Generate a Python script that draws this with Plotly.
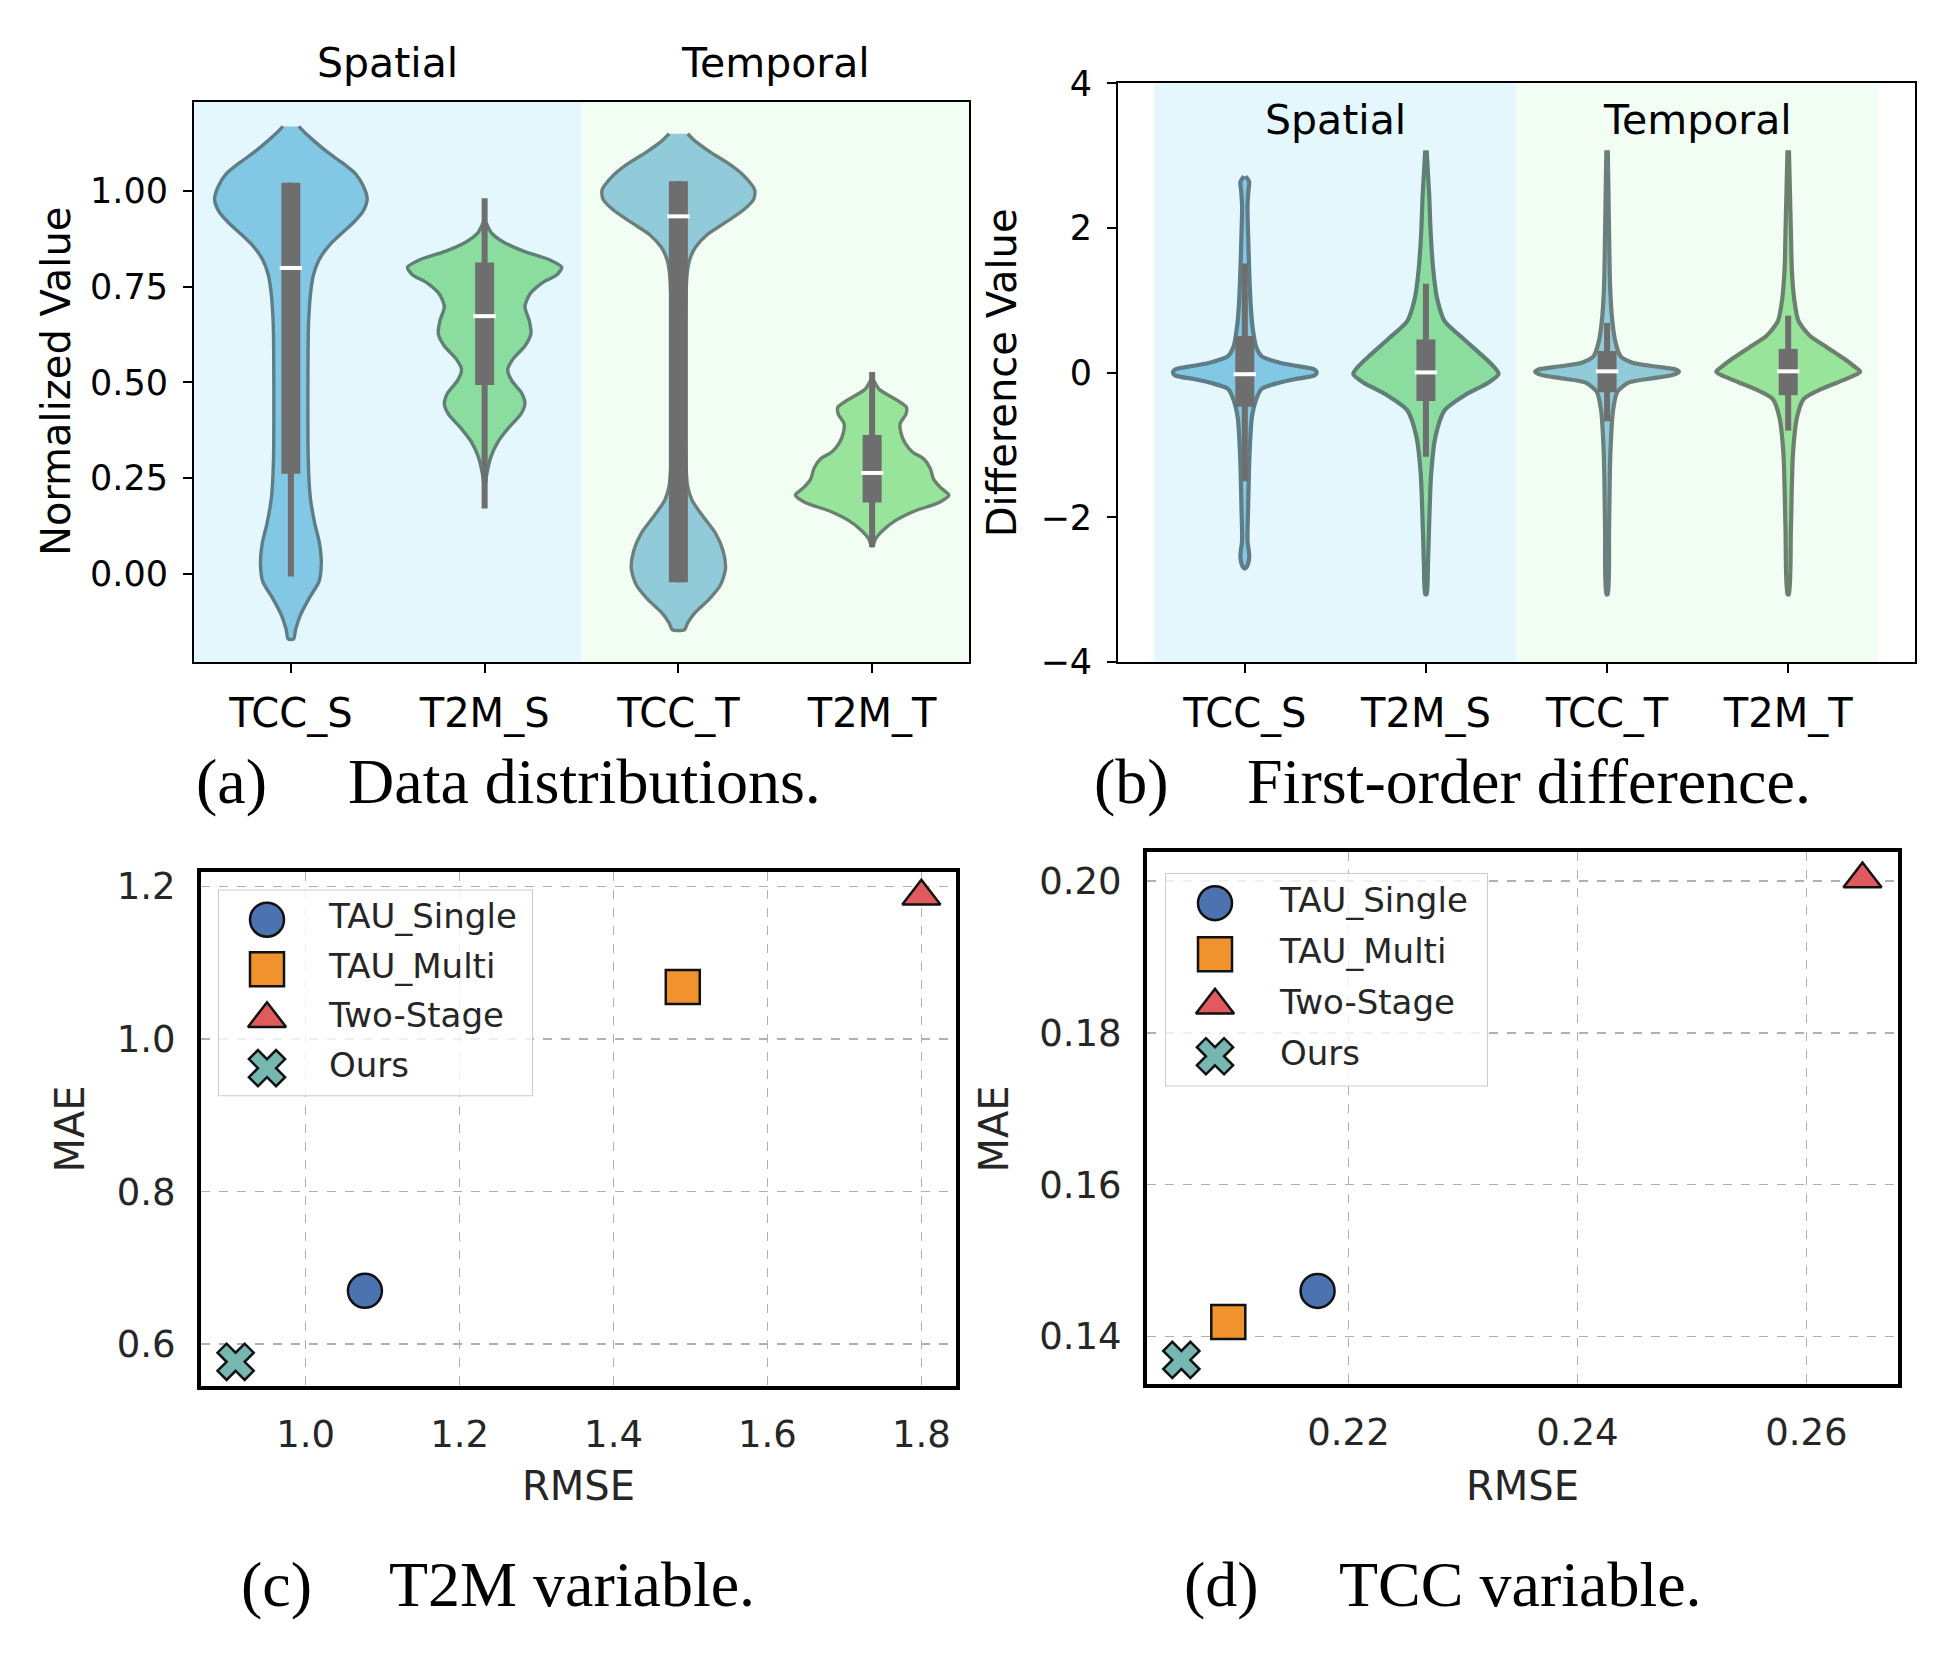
import plotly.graph_objects as go

W, H = 1952, 1656

# ---------------- data ----------------
categories = ["TCC_S", "T2M_S", "TCC_T", "T2M_T"]
groups = ["Spatial", "Temporal"]

# (a) violin outlines: value, half-width (category units)
a_tcc_s_val = [1.169, 1.153, 1.130, 1.101, 1.073, 1.045, 1.012, 0.979, 0.947, 0.918, 0.890, 0.857, 0.820,
               0.782, 0.735, 0.651, 0.482, 0.294, 0.200, 0.134, 0.078, 0.026, -0.021, -0.063, -0.110, -0.147, -0.171]
a_tcc_s_hw = [0.041, 0.071, 0.122, 0.191, 0.268, 0.334, 0.375, 0.394, 0.372, 0.323, 0.263, 0.196, 0.145,
              0.117, 0.102, 0.091, 0.088, 0.090, 0.100, 0.122, 0.148, 0.157, 0.145, 0.096, 0.048, 0.024, 0.014]
a_t2m_s_val = [0.918, 0.890, 0.867, 0.843, 0.820, 0.801, 0.782, 0.759, 0.731, 0.698, 0.660, 0.627, 0.595,
               0.562, 0.533, 0.505, 0.472, 0.444, 0.416, 0.383, 0.346, 0.303, 0.257, 0.233]
a_t2m_s_hw = [0.007, 0.036, 0.096, 0.200, 0.337, 0.398, 0.375, 0.294, 0.234, 0.208, 0.231, 0.239, 0.208,
              0.148, 0.119, 0.139, 0.191, 0.208, 0.186, 0.127, 0.071, 0.031, 0.010, 0.003]
a_tcc_t_val = [1.150, 1.130, 1.102, 1.069, 1.036, 1.003, 0.979, 0.951, 0.918, 0.886, 0.853, 0.820, 0.782,
               0.670, 0.482, 0.294, 0.228, 0.191, 0.153, 0.106, 0.059, 0.012, -0.030, -0.068, -0.101, -0.129, -0.147]
a_tcc_t_hw = [0.048, 0.088, 0.165, 0.268, 0.346, 0.394, 0.389, 0.337, 0.243, 0.148, 0.088, 0.058, 0.045,
              0.036, 0.034, 0.038, 0.048, 0.071, 0.122, 0.191, 0.231, 0.243, 0.217, 0.157, 0.088, 0.048, 0.031]
a_t2m_t_val = [0.510, 0.482, 0.454, 0.435, 0.416, 0.393, 0.369, 0.341, 0.318, 0.299, 0.275, 0.247, 0.224,
               0.205, 0.186, 0.163, 0.139, 0.116, 0.092, 0.073]
a_t2m_t_hw = [0.003, 0.036, 0.126, 0.177, 0.174, 0.145, 0.148, 0.170, 0.208, 0.268, 0.300, 0.317, 0.355,
              0.396, 0.346, 0.217, 0.122, 0.062, 0.019, 0.003]
a_q1 = [0.261, 0.493, -0.023, 0.186]
a_q3 = [1.022, 0.813, 1.026, 0.362]
a_median = [0.799, 0.673, 0.934, 0.263]
a_whisker_low = [-0.008, 0.170, -0.023, 0.069]
a_whisker_high = [1.022, 0.981, 1.026, 0.527]

# (b) first-order difference violins
b_tcc_s_val = [2.716, 2.639, 2.511, 2.305, 1.946, 1.433, 0.919, 0.611, 0.355, 0.226, 0.139, 0.097, 0.046,
               0.005, -0.036, -0.087, -0.134, -0.221, -0.365, -0.622, -1.135, -1.905, -2.316, -2.521, -2.624, -2.701]
b_tcc_s_hw = [0.004, 0.024, 0.020, 0.015, 0.018, 0.024, 0.033, 0.044, 0.063, 0.094, 0.195, 0.280, 0.385,
              0.397, 0.385, 0.280, 0.195, 0.094, 0.063, 0.039, 0.026, 0.018, 0.015, 0.024, 0.020, 0.004]
b_t2m_s_val = [3.076, 2.459, 1.946, 1.433, 1.022, 0.714, 0.457, 0.251, 0.097, -0.016, -0.134, -0.313, -0.519,
               -0.878, -1.392, -2.162, -2.676, -3.061]
b_t2m_s_hw = [0.004, 0.018, 0.026, 0.040, 0.062, 0.103, 0.213, 0.305, 0.370, 0.401, 0.346, 0.213, 0.103,
              0.053, 0.029, 0.017, 0.011, 0.004]
b_tcc_t_val = [3.076, 1.946, 1.176, 0.714, 0.406, 0.226, 0.139, 0.087, 0.046, 0.015, -0.026, -0.077, -0.134,
               -0.262, -0.519, -1.135, -2.162, -3.061]
b_tcc_t_hw = [0.004, 0.011, 0.017, 0.029, 0.048, 0.075, 0.140, 0.268, 0.379, 0.397, 0.369, 0.250, 0.121,
              0.057, 0.033, 0.018, 0.011, 0.004]
b_t2m_t_val = [3.076, 1.946, 1.433, 1.022, 0.714, 0.508, 0.354, 0.200, 0.097, 0.015, -0.082, -0.211, -0.365,
               -0.622, -1.135, -2.162, -3.061]
b_t2m_t_hw = [0.004, 0.015, 0.020, 0.033, 0.057, 0.121, 0.213, 0.305, 0.360, 0.397, 0.324, 0.195, 0.085,
              0.048, 0.026, 0.015, 0.004]
b_q1 = [-0.47, -0.39, -0.27, -0.31]
b_q3 = [0.51, 0.46, 0.30, 0.33]
b_median = [-0.02, 0.005, 0.02, 0.02]
b_whisker_low = [-1.50, -1.16, -0.67, -0.80]
b_whisker_high = [1.51, 1.23, 0.69, 0.79]

# (c), (d) scatter
methods = ["TAU_Single", "TAU_Multi", "Two-Stage", "Ours"]
t2m_rmse = [1.077, 1.490, 1.800, 0.909]
t2m_mae = [0.670, 1.068, 1.187, 0.577]
tcc_rmse = [0.2173, 0.2095, 0.2649, 0.2054]
tcc_mae = [0.1460, 0.1419, 0.2003, 0.1369]

a_ticks = [0.0, 0.25, 0.5, 0.75, 1.0]
b_ticks = [-4, -2, 0, 2, 4]
c_xticks = [1.0, 1.2, 1.4, 1.6, 1.8]
c_yticks = [0.6, 0.8, 1.0, 1.2]
d_xticks = [0.22, 0.24, 0.26]
d_yticks = [0.14, 0.16, 0.18, 0.20]

# ---------------- styles ----------------
FONT = "DejaVu Sans"
SERIF = "Liberation Serif"
DARK = "#262626"
violin_fill = ["#82c7e3", "#8bdd9f", "#91cad9", "#98e49a"]
violin_edge = ["#5f7d87", "#5f7f77", "#6b807c", "#6b806e"]
BOX = "#6e6e6e"
bg_colors = ["#e4f7fd", "#f2fdf3"]
m_symbols = ["circle", "square", "triangle-up", "x"]
m_colors = ["#4c72b0", "#f0922d", "#e05a5e", "#76b7b2"]
m_sizes = [34, 34, 33, 32]


def hx(p):
    return p / W


def vy(p):
    return 1 - p / H


A_X, A_Y = (194, 969), (84, 658)
B_X, B_Y = (1118, 1915), (65, 658)
C_X, C_Y = (201, 956), (873, 1400)
D_X, D_Y = (1147, 1898), (853, 1398)
LEG_C = dict(x=(218, 533), y=(891, 1103), mx=49, tx=111, top=31, step=50.7)
LEG_D = dict(x=(1165, 1488), y=(874, 1093), mx=50, tx=115, top=31, step=52.3)

fig = go.Figure()


def add_violins(profiles, q1, q3, med, wlo, whi, xa, ya, edge_w):
    for i, (vals, hws) in enumerate(profiles):
        xs = [i + h for h in hws] + [i - h for h in reversed(hws)]
        ys = list(vals) + list(reversed(vals))
        fig.add_trace(go.Scatter(
            x=xs, y=ys, mode="lines", fill="toself", fillcolor=violin_fill[i],
            line=dict(color=violin_edge[i], width=edge_w, shape="spline", smoothing=0.7),
            xaxis=xa, yaxis=ya, hoverinfo="skip", showlegend=False))
    for i in range(len(categories)):
        fig.add_trace(go.Scatter(x=[i, i], y=[wlo[i], whi[i]], mode="lines",
                                 line=dict(color=BOX, width=6), xaxis=xa, yaxis=ya,
                                 hoverinfo="skip", showlegend=False))
        fig.add_trace(go.Scatter(x=[i, i], y=[q1[i], q3[i]], mode="lines",
                                 line=dict(color=BOX, width=19), xaxis=xa, yaxis=ya,
                                 hoverinfo="skip", showlegend=False))
        fig.add_trace(go.Scatter(x=[i], y=[med[i]], mode="markers",
                                 marker=dict(symbol="line-ew", size=16, color="white", opacity=1,
                                             line=dict(color="white", width=4)),
                                 xaxis=xa, yaxis=ya, hoverinfo="skip", showlegend=False))


add_violins([(a_tcc_s_val, a_tcc_s_hw), (a_t2m_s_val, a_t2m_s_hw),
             (a_tcc_t_val, a_tcc_t_hw), (a_t2m_t_val, a_t2m_t_hw)],
            a_q1, a_q3, a_median, a_whisker_low, a_whisker_high, "x", "y", 3.4)
add_violins([(b_tcc_s_val, b_tcc_s_hw), (b_t2m_s_val, b_t2m_s_hw),
             (b_tcc_t_val, b_tcc_t_hw), (b_t2m_t_val, b_t2m_t_hw)],
            b_q1, b_q3, b_median, b_whisker_low, b_whisker_high, "x2", "y2", 4.2)

for k, m in enumerate(methods):
    for (xs, ys, xa, ya) in [(t2m_rmse, t2m_mae, "x3", "y3"), (tcc_rmse, tcc_mae, "x4", "y4")]:
        fig.add_trace(go.Scatter(
            x=[xs[k]], y=[ys[k]], mode="markers", name=m, cliponaxis=False,
            marker=dict(symbol=m_symbols[k], size=m_sizes[k], opacity=1,
                        color=m_colors[k], line=dict(color="#111111", width=2.5)),
            xaxis=xa, yaxis=ya, showlegend=False))

# hand-drawn legends (one per scatter panel) on helper axes: row = method index
for leg, xa, ya in [(LEG_C, "x5", "y5"), (LEG_D, "x6", "y6")]:
    w = leg["x"][1] - leg["x"][0]
    h = leg["y"][1] - leg["y"][0]
    y_top = -leg["top"] / leg["step"]
    y_bot = (h - leg["top"]) / leg["step"]
    # legend frame (white, slightly transparent, light grey edge)
    fig.add_trace(go.Scatter(
        x=[0, w, w, 0, 0], y=[y_top, y_top, y_bot, y_bot, y_top], mode="lines",
        fill="toself", fillcolor="rgba(255,255,255,0.8)", line=dict(color="#cccccc", width=2),
        cliponaxis=False, xaxis=xa, yaxis=ya, hoverinfo="skip", showlegend=False))
    idx = list(range(len(methods)))
    fig.add_trace(go.Scatter(
        x=[leg["mx"]] * len(methods), y=idx, mode="markers", cliponaxis=False,
        marker=dict(symbol=m_symbols, size=m_sizes, color=m_colors, opacity=1,
                    line=dict(color="#111111", width=2.5)),
        xaxis=xa, yaxis=ya, hoverinfo="skip", showlegend=False))
    fig.add_trace(go.Scatter(
        x=[leg["tx"]] * len(methods), y=idx, mode="text", text=methods, cliponaxis=False,
        textposition="middle right", textfont=dict(family=FONT, size=34, color=DARK),
        xaxis=xa, yaxis=ya, hoverinfo="skip", showlegend=False))

# ---------------- layout ----------------
common_a = dict(showline=True, mirror=True, linecolor="black", linewidth=2, zeroline=False,
                showgrid=False, ticks="outside", ticklen=9, tickwidth=2, tickcolor="black")
common_c = dict(showline=True, mirror=True, linecolor="black", linewidth=4, zeroline=False,
                showgrid=True, gridcolor="#b0b0b0", griddash="dash", gridwidth=1.5, ticks="",
                tickfont=dict(family=FONT, size=37, color=DARK))

layout = dict(
    width=W, height=H, margin=dict(l=0, r=0, t=0, b=0),
    paper_bgcolor="white", plot_bgcolor="rgba(0,0,0,0)", showlegend=False,
    font=dict(family=FONT, color="black"),
    xaxis=dict(domain=[hx(A_X[0]), hx(A_X[1])], anchor="y", range=[-0.5, 3.5],
               tickvals=list(range(len(categories))), ticktext=categories,
               tickfont=dict(family=FONT, size=40, color="black"), ticklabelstandoff=6, **common_a),
    yaxis=dict(domain=[vy(A_Y[1]), vy(A_Y[0])], anchor="x", range=[-0.2315, 1.233],
               tickvals=a_ticks, tickformat=".2f",
               tickfont=dict(family=FONT, size=35, color="black"), ticklabelstandoff=8, **common_a),
    xaxis2=dict(domain=[hx(B_X[0]), hx(B_X[1])], anchor="y2", range=[-0.7, 3.7],
                tickvals=list(range(len(categories))), ticktext=categories,
                tickfont=dict(family=FONT, size=40, color="black"), ticklabelstandoff=6, **common_a),
    yaxis2=dict(domain=[vy(B_Y[1]), vy(B_Y[0])], anchor="x2", range=[-4, 4],
                tickvals=b_ticks,
                tickfont=dict(family=FONT, size=35, color="black"), ticklabelstandoff=8, **common_a),
    xaxis3=dict(domain=[hx(C_X[0]), hx(C_X[1])], anchor="y3", range=[0.864, 1.845],
                tickvals=c_xticks, tickformat=".1f", ticklabelstandoff=12, **common_c),
    yaxis3=dict(domain=[vy(C_Y[1]), vy(C_Y[0])], anchor="x3", range=[0.545, 1.219],
                tickvals=c_yticks, tickformat=".1f", ticklabelstandoff=14, **common_c),
    xaxis4=dict(domain=[hx(D_X[0]), hx(D_X[1])], anchor="y4", range=[0.2024, 0.2680],
                tickvals=d_xticks, tickformat=".2f", ticklabelstandoff=12, **common_c),
    yaxis4=dict(domain=[vy(D_Y[1]), vy(D_Y[0])], anchor="x4", range=[0.1337, 0.2038],
                tickvals=d_yticks, tickformat=".2f", ticklabelstandoff=14, **common_c),
)
for n, leg in [(5, LEG_C), (6, LEG_D)]:
    w = leg["x"][1] - leg["x"][0]
    h = leg["y"][1] - leg["y"][0]
    layout["xaxis%d" % n] = dict(domain=[hx(leg["x"][0]), hx(leg["x"][1])], anchor="y%d" % n,
                                 range=[0, w], visible=False, fixedrange=True)
    layout["yaxis%d" % n] = dict(domain=[vy(leg["y"][1]), vy(leg["y"][0])], anchor="x%d" % n,
                                 range=[(h - leg["top"]) / leg["step"], -leg["top"] / leg["step"]],
                                 visible=False, fixedrange=True)
fig.update_layout(**layout)

# background bands for spatial / temporal groups
shapes = []
for xr, yr in [("x", "y domain"), ("x2", "y2 domain")]:
    shapes.append(dict(type="rect", xref=xr, yref=yr, x0=-0.5, x1=1.5, y0=0, y1=1,
                       fillcolor=bg_colors[0], line=dict(width=0), layer="below"))
    shapes.append(dict(type="rect", xref=xr, yref=yr, x0=1.5, x1=3.5, y0=0, y1=1,
                       fillcolor=bg_colors[1], line=dict(width=0), layer="below"))
fig.update_layout(shapes=shapes)

ann = []
# group titles
for gi, g in enumerate(groups):
    ann.append(dict(text=g, xref="x", yref="paper", x=0.5 + 2 * gi, y=vy(44), showarrow=False,
                    xanchor="center", yanchor="middle", font=dict(family=FONT, size=41, color="black")))
    ann.append(dict(text=g, xref="x2", yref="y2", x=0.5 + 2 * gi, y=3.5, showarrow=False,
                    xanchor="center", yanchor="middle", font=dict(family=FONT, size=41, color="black")))
# axis titles
ann += [
    dict(text="Normalized Value", x=hx(56), y=vy(371), textangle=-90,
         font=dict(family=FONT, size=40, color="black")),
    dict(text="Difference Value", x=hx(1002), y=vy(361), textangle=-90,
         font=dict(family=FONT, size=40, color="black")),
    dict(text="MAE", x=hx(70), y=vy(1137), textangle=-90, font=dict(family=FONT, size=40, color=DARK)),
    dict(text="RMSE", x=hx(578), y=vy(1502), font=dict(family=FONT, size=40, color=DARK)),
    dict(text="MAE", x=hx(994), y=vy(1137), textangle=-90, font=dict(family=FONT, size=40, color=DARK)),
    dict(text="RMSE", x=hx(1522), y=vy(1502), font=dict(family=FONT, size=40, color=DARK)),
]
# captions
caps = [("(a)", 194, "Data distributions.", 346, 780),
        ("(b)", 1092, "First-order difference.", 1245, 780),
        ("(c)", 239, "T2M variable.", 387, 1603),
        ("(d)", 1182, "TCC variable.", 1337, 1603)]
for lab, lx, txt, tx, yy in caps:
    ann.append(dict(text=lab, x=hx(lx), y=vy(yy), xanchor="left",
                    font=dict(family=SERIF, size=64, color="black")))
    ann.append(dict(text=txt, x=hx(tx), y=vy(yy), xanchor="left",
                    font=dict(family=SERIF, size=64, color="black")))
for a in ann:
    a.setdefault("xref", "paper")
    a.setdefault("yref", "paper")
    a.setdefault("showarrow", False)
    a.setdefault("xanchor", "center")
    a.setdefault("yanchor", "middle")
fig.update_layout(annotations=ann)

fig.write_html("out.html", config={"displayModeBar": False, "staticPlot": True},
               post_script="document.body.style.margin='0';document.body.style.overflow='hidden';")
